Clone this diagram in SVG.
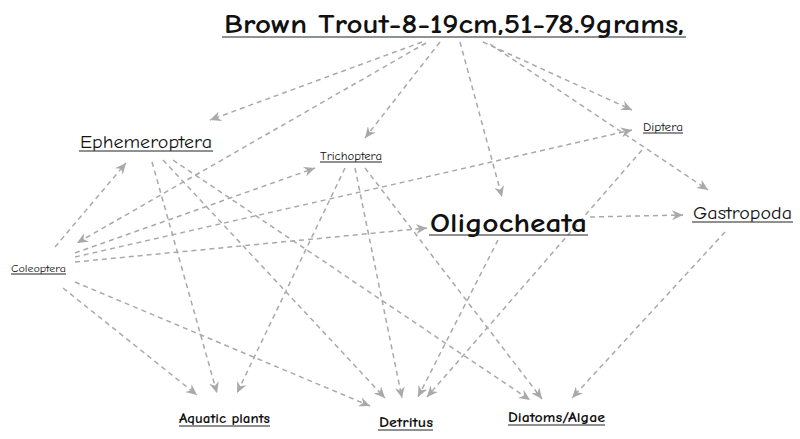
<svg xmlns="http://www.w3.org/2000/svg" width="800" height="439" viewBox="0 0 800 439">
<style>
.t{font-family:"Comic Sans MS","Comic Neue","DejaVu Sans",sans-serif;fill:#111;}
.b{font-weight:bold;}
.u{stroke:#222;stroke-width:1;}
.c line{stroke:#a9a9a9;stroke-width:1.5;stroke-dasharray:5,4;fill:none;marker-end:url(#ah);}
</style>
<defs>
<marker id="ah" markerUnits="userSpaceOnUse" markerWidth="12" markerHeight="10" refX="11" refY="5" orient="auto">
<path d="M0,0 L11,5 L0,10 L3.5,5 z" fill="#a9a9a9"/>
</marker>
</defs>
<rect width="800" height="439" fill="#fff"/>
<g id="connectors" class="c">
<line x1="422" y1="42" x2="210" y2="120"/>
<line x1="426" y1="43" x2="77" y2="243"/>
<line x1="440" y1="42" x2="365" y2="138"/>
<line x1="460" y1="42" x2="502" y2="197"/>
<line x1="483" y1="42" x2="632" y2="110"/>
<line x1="490" y1="44" x2="708" y2="190"/>
<line x1="152" y1="162" x2="217" y2="393"/>
<line x1="163" y1="160" x2="385" y2="398"/>
<line x1="173" y1="160" x2="530" y2="400"/>
<line x1="345" y1="168" x2="237" y2="393"/>
<line x1="355" y1="168" x2="402" y2="398"/>
<line x1="365" y1="168" x2="542" y2="399"/>
<line x1="55" y1="247" x2="126" y2="163"/>
<line x1="75" y1="253" x2="315" y2="168"/>
<line x1="75" y1="257" x2="632" y2="130"/>
<line x1="75" y1="262" x2="427" y2="228"/>
<line x1="63" y1="288" x2="197" y2="395"/>
<line x1="75" y1="282" x2="370" y2="406"/>
<line x1="498" y1="240" x2="418" y2="397"/>
<line x1="590" y1="217" x2="683" y2="215"/>
<line x1="642" y1="150" x2="427" y2="397"/>
<line x1="725" y1="232" x2="572" y2="398"/>
</g>
<g id="brown-trout">
<text class="t b" x="224" y="33" font-size="27" textLength="460" lengthAdjust="spacingAndGlyphs">Brown Trout-8-19cm,51-78.9grams,</text>
<line class="u" x1="222" y1="37" x2="686" y2="37" stroke-width="1.5"/>
</g>
<g id="ephemeroptera">
<text class="t" x="80" y="148" font-size="18" textLength="132" lengthAdjust="spacingAndGlyphs">Ephemeroptera</text>
<line class="u" x1="79" y1="151" x2="213" y2="151"/>
</g>
<g id="trichoptera">
<text class="t" x="320" y="160" font-size="11" textLength="62" lengthAdjust="spacingAndGlyphs">Trichoptera</text>
<line class="u" x1="320" y1="162" x2="382" y2="162" stroke-width="0.8"/>
</g>
<g id="diptera">
<text class="t" x="643" y="131" font-size="11" textLength="40" lengthAdjust="spacingAndGlyphs">Diptera</text>
<line class="u" x1="643" y1="133" x2="683" y2="133" stroke-width="0.8"/>
</g>
<g id="coleoptera">
<text class="t" x="11" y="272" font-size="10.5" textLength="55" lengthAdjust="spacingAndGlyphs">Coleoptera</text>
<line class="u" x1="11" y1="274" x2="66" y2="274" stroke-width="0.8"/>
</g>
<g id="oligocheata">
<text class="t b" x="430" y="232" font-size="27" textLength="157" lengthAdjust="spacingAndGlyphs">Oligocheata</text>
<line class="u" x1="429" y1="235" x2="588" y2="235" stroke-width="1.5"/>
</g>
<g id="gastropoda">
<text class="t" x="693" y="219" font-size="17" textLength="99" lengthAdjust="spacingAndGlyphs">Gastropoda</text>
<line class="u" x1="692" y1="222" x2="793" y2="222"/>
</g>
<g id="aquatic-plants">
<text class="t b" x="179" y="423" font-size="13" textLength="91" lengthAdjust="spacingAndGlyphs">Aquatic plants</text>
<line class="u" x1="179" y1="426" x2="270" y2="426"/>
</g>
<g id="detritus">
<text class="t b" x="379" y="427" font-size="13" textLength="54" lengthAdjust="spacingAndGlyphs">Detritus</text>
<line class="u" x1="378" y1="430" x2="433" y2="430"/>
</g>
<g id="diatoms-algae">
<text class="t b" x="508" y="422" font-size="13" textLength="97" lengthAdjust="spacingAndGlyphs">Diatoms/Algae</text>
<line class="u" x1="508" y1="425" x2="605" y2="425"/>
</g>
</svg>
